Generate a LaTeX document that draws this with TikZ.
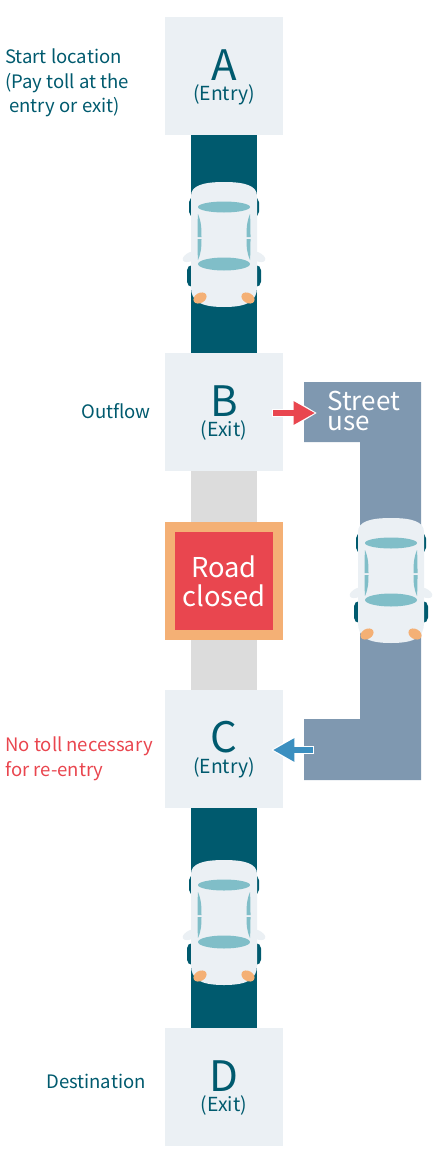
\documentclass[tikz,border=0pt]{standalone}
\usepackage{fontspec}
\setmainfont{Noto Sans CJK JP}
\usetikzlibrary{arrows.meta}
\definecolor{tealroad}{HTML}{005A6E}
\definecolor{boxfill}{HTML}{EBF0F4}
\definecolor{closedroad}{HTML}{DCDCDC}
\definecolor{alertred}{HTML}{E9464F}
\definecolor{closedrim}{HTML}{F4B075}
\definecolor{streetblue}{HTML}{7F98B0}
\definecolor{arrowblue}{HTML}{3B8FC0}
\definecolor{glass}{HTML}{80BEC8}
\newcommand{\tolltext}[2]{{\fontsize{31.5}{31.5}\selectfont\rule{0pt}{24.5pt}#1}\\[3pt]{\fontsize{14.5}{17}\selectfont #2}}

\begin{document}
\begin{tikzpicture}[
	x=0.75pt, y=-0.75pt,
	toll box/.style={
		fill=boxfill,
		minimum width=88.5pt,
		minimum height=88.5pt,
		inner sep=0pt,
		align=center,
		text=tealroad
	},
	road/.style={line width=49.5pt},
	side label/.style={
		align=left,
		inner sep=0pt,
		font=\fontsize{13.9}{18.5}\selectfont,
		text=tealroad
	},
	flow arrow/.style={
		line width=4.5pt,
		-{Triangle[length=16pt,width=16.5pt]}
	},
	flow rim/.style={
		line width=6.5pt,
		white,
		shorten >=-1.5pt,
		shorten <=-1pt,
		-{Triangle[length=18pt,width=20pt]}
	},
	car/.pic={
		% wheels
		\fill[tealroad, rounded corners=4] (-35,15) rectangle (35,35);
		\fill[tealroad, rounded corners=4] (-37,83) rectangle (37,105);
		% mirrors
		\foreach \side in {-1,1} {
			\fill[boxfill, rotate around={\side*-25:(\side*33,74.5)}] (\side*33,74.5) ellipse (9 and 4.5);
		}
		% body
		\fill[boxfill] (-33,14) .. controls (-33,4) and (-22,0) .. (0,0)
			.. controls (22,0) and (33,4) .. (33,14)
			-- (33,105) .. controls (33,119) and (24,125) .. (0,125)
			.. controls (-24,125) and (-33,119) .. (-33,105) -- cycle;
		% windows
		\fill[glass] (0,25) ellipse (26 and 5.5);
		\fill[glass] (0,82) ellipse (26 and 6.5);
		\foreach \side in {-1,1} {
			\fill[glass] (\side*26,32) .. controls (\side*22.5,40) and (\side*22.5,48) .. (\side*22.5,55) -- (\side*26.5,55) .. controls (\side*26.5,48) and (\side*26.5,40) .. cycle;
			\fill[glass] (\side*26,78) .. controls (\side*22.5,70) and (\side*22.5,64) .. (\side*22.5,57) -- (\side*26.5,57) .. controls (\side*26.5,64) and (\side*26.5,70) .. cycle;
			% lights
			\fill[closedrim, rotate around={\side*-30:(\side*24,116)}] (\side*24,116) ellipse (7 and 5);
		}
	}
	]
	\useasboundingbox (0,0) rectangle (438,1163);
	
	\node[toll box] (tollA) at (224,76) {\tolltext{A}{(Entry)}};
	\node[toll box] (tollB) at (224,412) {\tolltext{B}{(Exit)}};
	\node[toll box] (tollC) at (224,749) {\tolltext{C}{(Entry)}};
	\node[toll box] (tollD) at (224,1087) {\tolltext{D}{(Exit)}};
	
	\draw[road, tealroad] (tollA.south) -- (tollB.north);
	\draw[road, closedroad] (tollB.south) -- (tollC.north);
	\draw[road, tealroad] (tollC.south) -- (tollD.north);
	
	\node[draw=closedrim, line width=7.5pt, fill=alertred, text=white,
		minimum width=81pt, minimum height=81pt, inner sep=0pt, align=center,
		font=\fontsize{20.5}{21.5}\selectfont] (closed) at (224,581) {Road\\closed};
	
	% street detour
	\fill[streetblue] (304,382) -- (421,382) -- (421,780) -- (304,780) -- (304,719)
		-- (360,719) -- (360,442) -- (304,442) -- cycle;
	\node[align=left, inner sep=0pt, text=white, anchor=west,
		font=\fontsize{19.5}{15}\selectfont] (street) at (327,411) {Street\\use};
	
	\pic at (224,182) {car};
	\pic at (224,860) {car};
	\pic at (391,518) {car};
	
	\node[side label, anchor=west] (start) at (5,83) {Start location\\(Pay toll at the\\\ entry or exit)};
	\node[side label, anchor=west] (outflow) at (81,411) {Outflow};
	\node[side label, anchor=west, text=alertred] (notoll) at (5,759) {No toll necessary\\for re-entry};
	\node[side label, anchor=west] (dest) at (46,1081) {Destination};
	
	% arrows
	\coordinate (redin) at (273,413);
	\coordinate (redout) at (315,413);
	\coordinate (bluein) at (313,750);
	\coordinate (blueout) at (273,750);
	\draw[flow rim] (redin) -- (redout);
	\draw[flow arrow, alertred] (redin) -- (redout);
	\draw[flow rim] (bluein) -- (blueout);
	\draw[flow arrow, arrowblue] (bluein) -- (blueout);
	
\end{tikzpicture}
\end{document}
